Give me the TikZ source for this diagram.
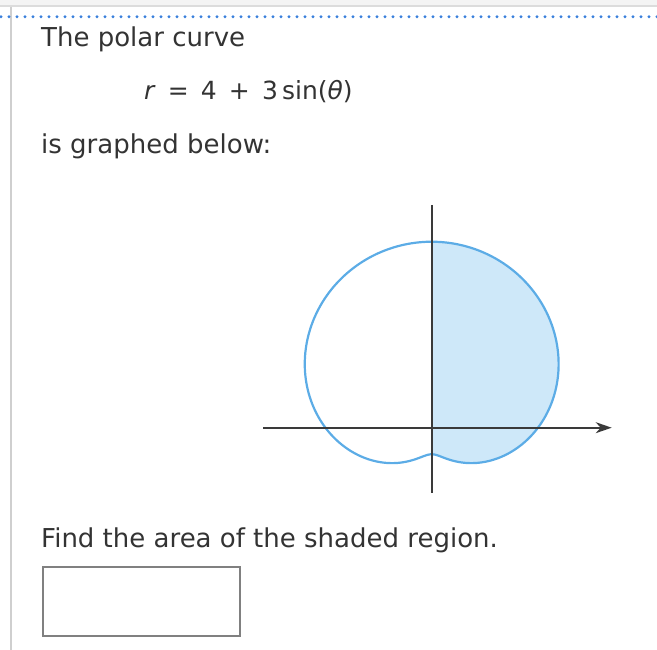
\documentclass[tikz,border=0pt]{standalone}
\usepackage{fontspec}
\setmainfont{DejaVu Sans}
\usepackage{tikz}
\usetikzlibrary{arrows.meta,positioning}

\definecolor{txtgrey}{HTML}{333333}
\definecolor{axisgrey}{HTML}{3A3A3A}
\definecolor{curveblue}{RGB}{92,172,230}
\definecolor{fillblue}{RGB}{206,232,249}
\definecolor{dotblue}{RGB}{58,128,220}
\definecolor{bandgrey}{HTML}{F4F4F4}
\definecolor{rulegrey}{HTML}{DCDCDC}
\definecolor{sidegrey}{HTML}{CFCFCF}
\definecolor{boxgrey}{HTML}{808080}

\begin{document}
\begin{tikzpicture}[x=1pt,y=-1pt,
    txt/.style={anchor=base west, inner sep=0pt, text=txtgrey,
                font=\fontsize{26}{31}\selectfont},
    eqtxt/.style={txt, font=\fontsize{25}{30}\selectfont},
    axis/.style={draw=axisgrey, line width=1.6pt},
    curve/.style={draw=curveblue, line width=2.2pt},
    answer/.style={draw=boxgrey, line width=2pt, inner sep=0pt,
                   minimum width=197pt, minimum height=69pt}]
\useasboundingbox (0,0) rectangle (657,650);

% page frame
\fill[bandgrey] (0,0) rectangle (657,5);
\fill[rulegrey] (0,5) rectangle (657,6.7);
\draw[sidegrey, line width=1.6pt] (11,6.7) -- (11,650);
\foreach \i in {0,...,82}
    \fill[dotblue] (1+8*\i,16.7) circle (1.6);

% question text
\node[txt] (intro) at (41,47) {The polar curve};
\node[eqtxt] (eqn) at (144,100) {\textit{r}\, =\, 4\, +\, 3\,sin(\textit{θ})};
\node[txt] (below) at (41,154) {is graphed below:};
\node[txt] (ask) at (41,547) {Find the area of the shaded region.};
\node[answer, anchor=north west] (ans) at (42,566) {};

% axes
\coordinate (O) at (431.7,427.7);
\coordinate (xl) at (263,427.7);
\coordinate (xr) at (611.7,427.7);
\coordinate (yt) at (431.7,205);
\coordinate (yb) at (431.7,493);

% shaded half and the limacon
\fill[fillblue] plot[domain=-90:90, samples=120, smooth]
    ({431.7+26.57*(4+3*sin(\x))*cos(\x)}, {427.7-26.57*(4+3*sin(\x))*sin(\x)}) -- cycle;
\draw[curve] plot[domain=0:360, samples=240, smooth]
    ({431.7+26.57*(4+3*sin(\x))*cos(\x)}, {427.7-26.57*(4+3*sin(\x))*sin(\x)}) -- cycle;

\draw[axis] (yt) -- (yb);
\draw[axis, -{Stealth[length=16pt, width=11pt, inset=5pt]}] (xl) -- (xr);
\end{tikzpicture}
\end{document}
